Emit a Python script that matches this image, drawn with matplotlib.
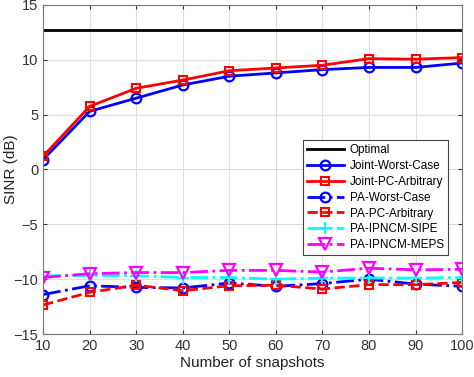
import matplotlib.pyplot as plt

plt.rcParams['font.family'] = ['Liberation Sans', 'DejaVu Sans']

snapshots = [10, 20, 30, 40, 50, 60, 70, 80, 90, 100]
optimal = 12.7
joint_worst = [0.9, 5.3, 6.5, 7.7, 8.5, 8.8, 9.1, 9.3, 9.3, 9.7]
joint_pc = [1.2, 5.75, 7.4, 8.15, 9.0, 9.25, 9.5, 10.1, 10.05, 10.2]
pa_worst = [-11.4, -10.6, -10.75, -10.8, -10.35, -10.65, -10.4, -10.0, -10.45, -10.65]
pa_pc = [-12.35, -11.2, -10.55, -11.05, -10.6, -10.55, -10.9, -10.5, -10.5, -10.3]
pa_sipe = [-9.7, -9.65, -9.7, -9.85, -9.85, -10.0, -9.9, -9.9, -9.9, -9.85]
pa_meps = [-9.85, -9.5, -9.4, -9.4, -9.2, -9.2, -9.35, -9.0, -9.15, -9.1]

fig = plt.figure(figsize=(4.74, 3.77), dpi=100)
ax = fig.add_axes([0.091, 0.114, 0.884, 0.873])

ax.plot([snapshots[0], snapshots[-1]], [optimal, optimal], color='black', lw=2, label='Optimal')
ax.plot(snapshots, joint_worst, '-o', color='blue', lw=2, ms=7, mfc='none', mew=1.6, label='Joint-Worst-Case')
ax.plot(snapshots, joint_pc, '-s', color='red', lw=2, ms=6, mfc='none', mew=1.5, label='Joint-PC-Arbitrary')
ax.plot(snapshots, pa_worst, '-.o', color='blue', lw=2, ms=7, mfc='none', mew=1.6, label='PA-Worst-Case')
ax.plot(snapshots, pa_pc, '--s', color='red', lw=2, ms=6, mfc='none', mew=1.5, label='PA-PC-Arbitrary')
ax.plot(snapshots, pa_sipe, '-.+', color='cyan', lw=2, ms=8, mew=1.5, label='PA-IPNCM-SIPE')
ax.plot(snapshots, pa_meps, '-.v', color='magenta', lw=2, ms=8, mfc='none', mew=1.6, label='PA-IPNCM-MEPS')

ax.set_xlim(10, 100)
ax.set_ylim(-15, 15)
ax.set_xticks(snapshots)
ax.set_yticks(range(-15, 16, 5))
ax.grid(True, color='#dddddd', lw=0.8)
ax.tick_params(direction='in', top=True, right=True, labelsize=10.5, colors='#333333', length=3)
for s in ax.spines.values():
    s.set_color('#777777')
ax.set_xlabel('Number of snapshots', fontsize=11, color='#222222', labelpad=2)
ax.set_ylabel('SINR (dB)', fontsize=11, color='#222222')
ax.yaxis.set_label_coords(-0.06, 0.5)

leg = ax.legend(loc='upper left', bbox_to_anchor=(0.62, 0.59), fontsize=8.5, handlelength=3.1,
                labelspacing=0.33, borderpad=0.35, handletextpad=0.5, borderaxespad=0,
                fancybox=False, edgecolor='#444444', framealpha=1)
leg.get_frame().set_linewidth(0.8)

fig.savefig('out.png', dpi=100)
